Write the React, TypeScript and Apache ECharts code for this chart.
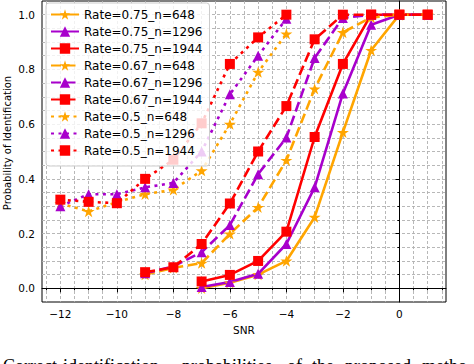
import React, { useEffect, useRef } from "react";
import * as echarts from "echarts";

// SNR values for each line style
const solidX = [-7, -6, -5, -4, -3, -2, -1, 0, 1];
const dashedX = [-9, -8, -7, -6, -5, -4, -3, -2, -1, 0, 1];
const dottedX = [-12, -11, -10, -9, -8, -7, -6, -5, -4];

// Rate = 0.75 (solid)
const r75n648 = [0.0, 0.02, 0.05, 0.10, 0.26, 0.57, 0.87, 1.0, 1.0];
const r75n1296 = [0.005, 0.023, 0.053, 0.162, 0.369, 0.712, 0.963, 1.0, 1.0];
const r75n1944 = [0.025, 0.049, 0.10, 0.207, 0.553, 0.82, 1.0, 1.0, 1.0];
// Rate = 0.67 (dashed)
const r67n648 = [0.05, 0.075, 0.092, 0.199, 0.296, 0.468, 0.729, 0.935, 0.99, 1.0, 1.0];
const r67n1296 = [0.055, 0.08, 0.132, 0.231, 0.417, 0.551, 0.842, 0.988, 1.0, 1.0, 1.0];
const r67n1944 = [0.059, 0.077, 0.162, 0.31, 0.5, 0.666, 0.91, 1.0, 1.0, 1.0, 1.0];
// Rate = 0.5 (dotted)
const r5n648 = [0.31, 0.281, 0.315, 0.344, 0.36, 0.43, 0.6, 0.79, 0.93];
const r5n1296 = [0.3, 0.344, 0.344, 0.369, 0.385, 0.5, 0.709, 0.85, 0.985];
const r5n1944 = [0.324, 0.316, 0.311, 0.4, 0.47, 0.603, 0.82, 0.917, 1.0];

const xTicks = [-12, -10, -8, -6, -4, -2, 0];
const yTicks = [0, 0.2, 0.4, 0.6, 0.8, 1.0];
const yTitle = "Probability of Identification";
const captionWords = ["Correct", "identification", "probabilities", "of", "the", "proposed", "metho"];
const captionX = [3, 63, 182, 287, 312, 345, 422];

const STAR =
  "path://M50 0 L61.23 34.55 L97.55 34.55 L68.16 55.9 L79.39 90.45 L50 69.1 L20.61 90.45 L31.84 55.9 L2.45 34.55 L38.77 34.55 Z";

const ORANGE = "#FFA500";
const PURPLE = "#A800CC";
const RED = "#FF0000";

export default function App() {
  const ref = useRef<HTMLDivElement>(null);
  useEffect(() => {
    if (!ref.current) return;
    const chart = echarts.init(ref.current, undefined, { renderer: "svg" });
    const font = "DejaVu Sans";
    const solid = "solid";
    const dashed = [10, 4.5];
    const dotted = [3, 4.5];
    const mk = (name: string, xs: number[], ys: number[], color: string, symbol: string, size: number, type: any) => ({
      name,
      type: "line",
      data: xs.map((x, i) => [x, ys[i]]),
      symbol,
      symbolSize: size,
      symbolKeepAspect: true,
      showSymbol: true,
      color,
      lineStyle: { color, width: 2.6, type },
      itemStyle: { color, borderWidth: 0 },
      emphasis: { disabled: true },
    });
    const series = [
      mk("Rate=0.75_n=648", solidX, r75n648, ORANGE, STAR, 12, solid),
      mk("Rate=0.75_n=1296", solidX, r75n1296, PURPLE, "triangle", 10, solid),
      mk("Rate=0.75_n=1944", solidX, r75n1944, RED, "rect", 10, solid),
      mk("Rate=0.67_n=648", dashedX, r67n648, ORANGE, STAR, 12, dashed),
      mk("Rate=0.67_n=1296", dashedX, r67n1296, PURPLE, "triangle", 10, dashed),
      mk("Rate=0.67_n=1944", dashedX, r67n1944, RED, "rect", 10, dashed),
      mk("Rate=0.5_n=648", dottedX, r5n648, ORANGE, STAR, 12, dotted),
      mk("Rate=0.5_n=1296", dottedX, r5n1296, PURPLE, "triangle", 10, dotted),
      mk("Rate=0.5_n=1944", dottedX, r5n1944, RED, "rect", 10, dotted),
    ];
    const gridLine = { show: true, lineStyle: { color: "#b0b0b0", width: 0.9, type: [3, 2] } };
    const fmtMinus = (v: number) => (v < 0 ? "\u2212" + Math.abs(v) : String(v));
    chart.setOption({
      animation: false,
      grid: {
        left: 42,
        top: 1,
        width: 404,
        height: 301,
        show: true,
        borderColor: "#000",
        borderWidth: 1,
        backgroundColor: "transparent",
      },
      legend: {
        orient: "vertical",
        left: 46,
        top: 3,
        itemWidth: 28,
        itemHeight: 13,
        itemGap: 4,
        padding: [5, 7, 9, 4],
        backgroundColor: "rgba(255,255,255,0.8)",
        borderColor: "#cccccc",
        borderWidth: 1,
        borderRadius: 3,
        textStyle: { fontFamily: font, fontSize: 12, lineHeight: 13, color: "#000" },
        data: series.map((s) => s.name),
      },
      xAxis: {
        type: "value",
        min: -12.65,
        max: 1.65,
        minInterval: 2,
        maxInterval: 2,
        splitNumber: 7,
        name: "SNR",
        nameLocation: "middle",
        nameGap: 22,
        nameTextStyle: { fontFamily: font, fontSize: 10.5, color: "#000" },
        axisLine: { show: true, lineStyle: { color: "#000", width: 1 } },
        axisTick: { show: true, length: 4, lineStyle: { color: "#000" }, customValues: xTicks },
        minorTick: { show: true, splitNumber: 4, length: 2, lineStyle: { color: "#000" } },
        splitLine: gridLine,
        minorSplitLine: gridLine,
        axisLabel: {
          customValues: xTicks,
          formatter: (v: number) => fmtMinus(v),
          fontFamily: font,
          fontSize: 10.5,
          color: "#000",
          margin: 6,
        },
      },
      yAxis: {
        type: "value",
        min: -0.05,
        max: 1.05,
        minInterval: 0.2,
        maxInterval: 0.2,
        axisLine: { show: true, lineStyle: { color: "#000", width: 1 } },
        axisTick: { show: true, length: 4, lineStyle: { color: "#000" }, customValues: yTicks },
        minorTick: { show: true, splitNumber: 4, length: 2, lineStyle: { color: "#000" } },
        splitLine: gridLine,
        minorSplitLine: gridLine,
        axisLabel: {
          customValues: yTicks,
          formatter: (v: number) => v.toFixed(1),
          fontFamily: font,
          fontSize: 10.5,
          color: "#000",
          margin: 7,
        },
      },
      graphic: [
        {
          type: "text",
          x: 7,
          y: 143,
          rotation: Math.PI / 2,
          style: {
            text: yTitle,
            fontFamily: font,
            fontSize: 10,
            fill: "#000",
            align: "center",
            verticalAlign: "middle",
          },
        },
        ...captionWords.map((w, i) => ({
          type: "text",
          left: captionX[i],
          top: 357,
          style: { text: w, fontFamily: "Liberation Serif", fontSize: 18, fill: "#000" },
        })),
      ],
      series,
    });
    return () => chart.dispose();
  }, []);
  return (
    <div
      ref={ref}
      style={{ position: "fixed", left: 0, top: 0, width: 474, height: 364, background: "#fff" }}
    />
  );
}
